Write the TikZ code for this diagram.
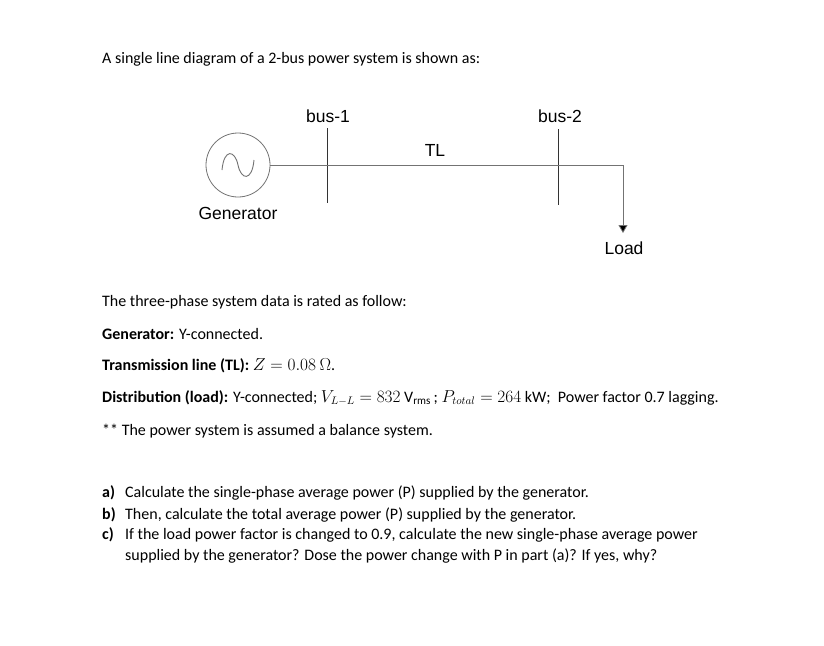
\documentclass[tikz,border=0pt]{standalone}
\usepackage{fontspec}
\setmainfont{Carlito}
\newfontfamily\diagfont{Liberation Sans}
\usetikzlibrary{arrows.meta,positioning}
\definecolor{wire}{rgb}{.45,.45,.45}

\begin{document}
\begin{tikzpicture}[x=1pt,y=-1pt,% styles for the whole picture
		every node/.style={inner sep=0pt},
		txt/.style={anchor=west,font=\fontsize{16}{18}\selectfont},
		lbl/.style={font=\diagfont\fontsize{17.5}{19}\selectfont},
		bus/.style={draw=black!80,line width=1pt},
		line/.style={draw=wire,line width=.8pt}
	]
	\useasboundingbox[fill=white] (0,0) rectangle (824,645);
	% one-line diagram
	\node[circle,draw=wire,line width=.8pt,minimum size=64pt](G) at (238,165){};
	\draw[wire,line width=.9pt] (222,170) .. controls (224,148) and (235,150) .. (238,165)
		.. controls (241,180) and (252,182) .. (254,160);
	\node[lbl](Gl) at (238,213){Generator};
	\coordinate (B1t) at (327,128);
	\coordinate (B1b) at (327,203);
	\coordinate (B2t) at (558,129);
	\coordinate (B2b) at (558,205);
	\coordinate (C) at (623,165);
	\coordinate (Ld) at (623,233);
	\draw[bus] (B1t) -- (B1b);
	\draw[bus] (B2t) -- (B2b);
	\node[lbl](B1l) at (328,116){bus-1};
	\node[lbl](B2l) at (560,116){bus-2};
	\node[lbl](TL) at (435,150){TL};
	\draw[line] (G.east) -- (C);
	\draw[line,-{Triangle[length=8pt,width=9pt,fill=black]}] (C) -- (Ld);
	\node[lbl](Ll) at (624,248){Load};
	% problem text
	\node[txt](T1) at (102,59){A single line diagram of a 2-bus power system is shown as:};
	\node[txt](T2) at (102,302){The three-phase system data is rated as follow:};
	\node[txt](T3) at (102,334){\textbf{Generator:} Y-connected.};
	\node[txt](T4) at (102,366){\textbf{Transmission line (TL):} $Z=0.08\ \Omega$.};
	\node[txt](T5) at (102,398){\textbf{Distribution (load):} Y-connected; $V_{L-L}=832\ \mathrm{V_{rms}}$\,; $P_{total}=264\ \mathrm{kW}$;\ \ Power factor 0.7 lagging.};
	\node[txt](T6) at (102,431){** The power system is assumed a balance system.};
	\node[txt](Qa) at (102,493){\textbf{a)}};
	\node[txt](Qb) at (102,515){\textbf{b)}};
	\node[txt](Qc) at (102,535){\textbf{c)}};
	\node[txt](Qat) at (125,493){Calculate the single-phase average power (P) supplied by the generator.};
	\node[txt](Qbt) at (125,515){Then, calculate the total average power (P) supplied by the generator.};
	\node[txt](Qct) at (125,535){If the load power factor is changed to 0.9, calculate the new single-phase average power};
	\node[txt](Qct2) at (125,556){supplied by the generator? Dose the power change with P in part (a)? If yes, why?};
\end{tikzpicture}
\end{document}
